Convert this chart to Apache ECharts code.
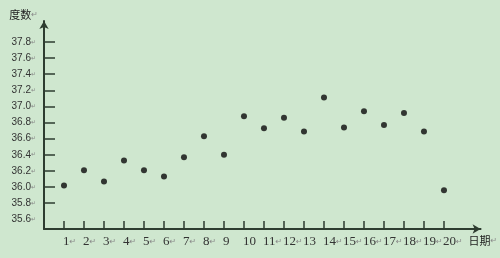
<!DOCTYPE html>
<html>
<head>
<meta charset="utf-8">
<script src="https://cdn.jsdelivr.net/npm/echarts@6/dist/echarts.min.js"></script>
<style>
html,body{margin:0;padding:0;background:#cfe7cf;}
#c{width:500px;height:258px;}
</style>
</head>
<body>
<div id="c"></div>
<script>
// Data
var days = [1,2,3,4,5,6,7,8,9,10,11,12,13,14,15,16,17,18,19,20];
var temps = [36.02,36.21,36.07,36.33,36.21,36.13,36.37,36.63,36.40,36.88,36.73,36.86,36.69,37.11,36.74,36.94,36.77,36.92,36.69,35.96];
var dayLabels = ['1↵','2↵','3↵','4↵','5↵','6↵','7↵','8↵','9','10','11↵','12↵','13','14↵','15↵','16↵','17↵','18↵','19↵','20↵'];
var yLabelValues = [35.6,35.8,36.0,36.2,36.4,36.6,36.8,37.0,37.2,37.4,37.6,37.8];
var yTickValues = [35.8,36.0,36.2,36.4,36.6,36.8,37.0,37.2,37.4,37.6,37.8];
var yName = '度数';
var xName = '日期';

function rt(s){ return s.replace('↵','{m|↵}'); }

var axisColor = '#2e3d30';
var chart = echarts.init(document.getElementById('c'), null, {renderer:'canvas'});
chart.setOption({
  backgroundColor:'#cfe7cf',
  animation:false,
  grid:{left:44, right:16, top:21, bottom:29, containLabel:false},
  xAxis:{
    type:'value', min:0, max:21.83,
    axisLine:{show:true, onZero:false, symbol:['none','arrow'], symbolSize:[7,8], lineStyle:{color:axisColor, width:2}},
    axisTick:{show:true, inside:true, length:8, customValues:days, lineStyle:{color:axisColor, width:1.5}},
    axisLabel:{
      customValues:days, margin:6, align:'left', padding:[0,0,0,-1],
      fontFamily:'Liberation Serif', fontSize:13, color:'#333',
      formatter:function(v){ var i = days.indexOf(Math.round(v)); return i>=0 ? rt(dayLabels[i]) : ''; },
      rich:{m:{fontSize:8, color:'#888', fontFamily:'DejaVu Sans'}}
    },
    splitLine:{show:false},
    name: xName + '{m|↵}', nameLocation:'end', nameGap:-18,
    nameTextStyle:{fontFamily:'Noto Sans CJK SC', fontSize:11, color:'#222', align:'left', verticalAlign:'top', padding:[6,0,0,0],
      rich:{m:{fontSize:8, color:'#888', fontFamily:'DejaVu Sans'}}}
  },
  yAxis:{
    type:'value', min:35.48, max:38.06,
    axisLine:{show:true, onZero:false, symbol:['none','arrow'], symbolSize:[7,8], lineStyle:{color:axisColor, width:2}},
    axisTick:{show:true, inside:true, length:11, customValues:yTickValues, lineStyle:{color:axisColor, width:1.5}},
    axisLabel:{
      customValues:yLabelValues, margin:8,
      fontFamily:'Liberation Sans', fontSize:10, color:'#333',
      formatter:function(v){ return v.toFixed(1) + '{m|↵}'; },
      rich:{m:{fontSize:6, color:'#888', fontFamily:'DejaVu Sans'}}
    },
    splitLine:{show:false},
    name: yName + '{m|↵}', nameLocation:'end', nameGap:6,
    nameTextStyle:{fontFamily:'Noto Sans CJK SC', fontSize:11, color:'#222', align:'right', verticalAlign:'middle', padding:[0,6,0,0],
      rich:{m:{fontSize:8, color:'#888', fontFamily:'DejaVu Sans'}}}
  },
  series:[{
    type:'scatter',
    data: days.map(function(d,i){ return [d, temps[i]]; }),
    symbol:'circle', symbolSize:6,
    itemStyle:{color:'#0a0a0a'}
  }]
});
</script>
</body>
</html>
